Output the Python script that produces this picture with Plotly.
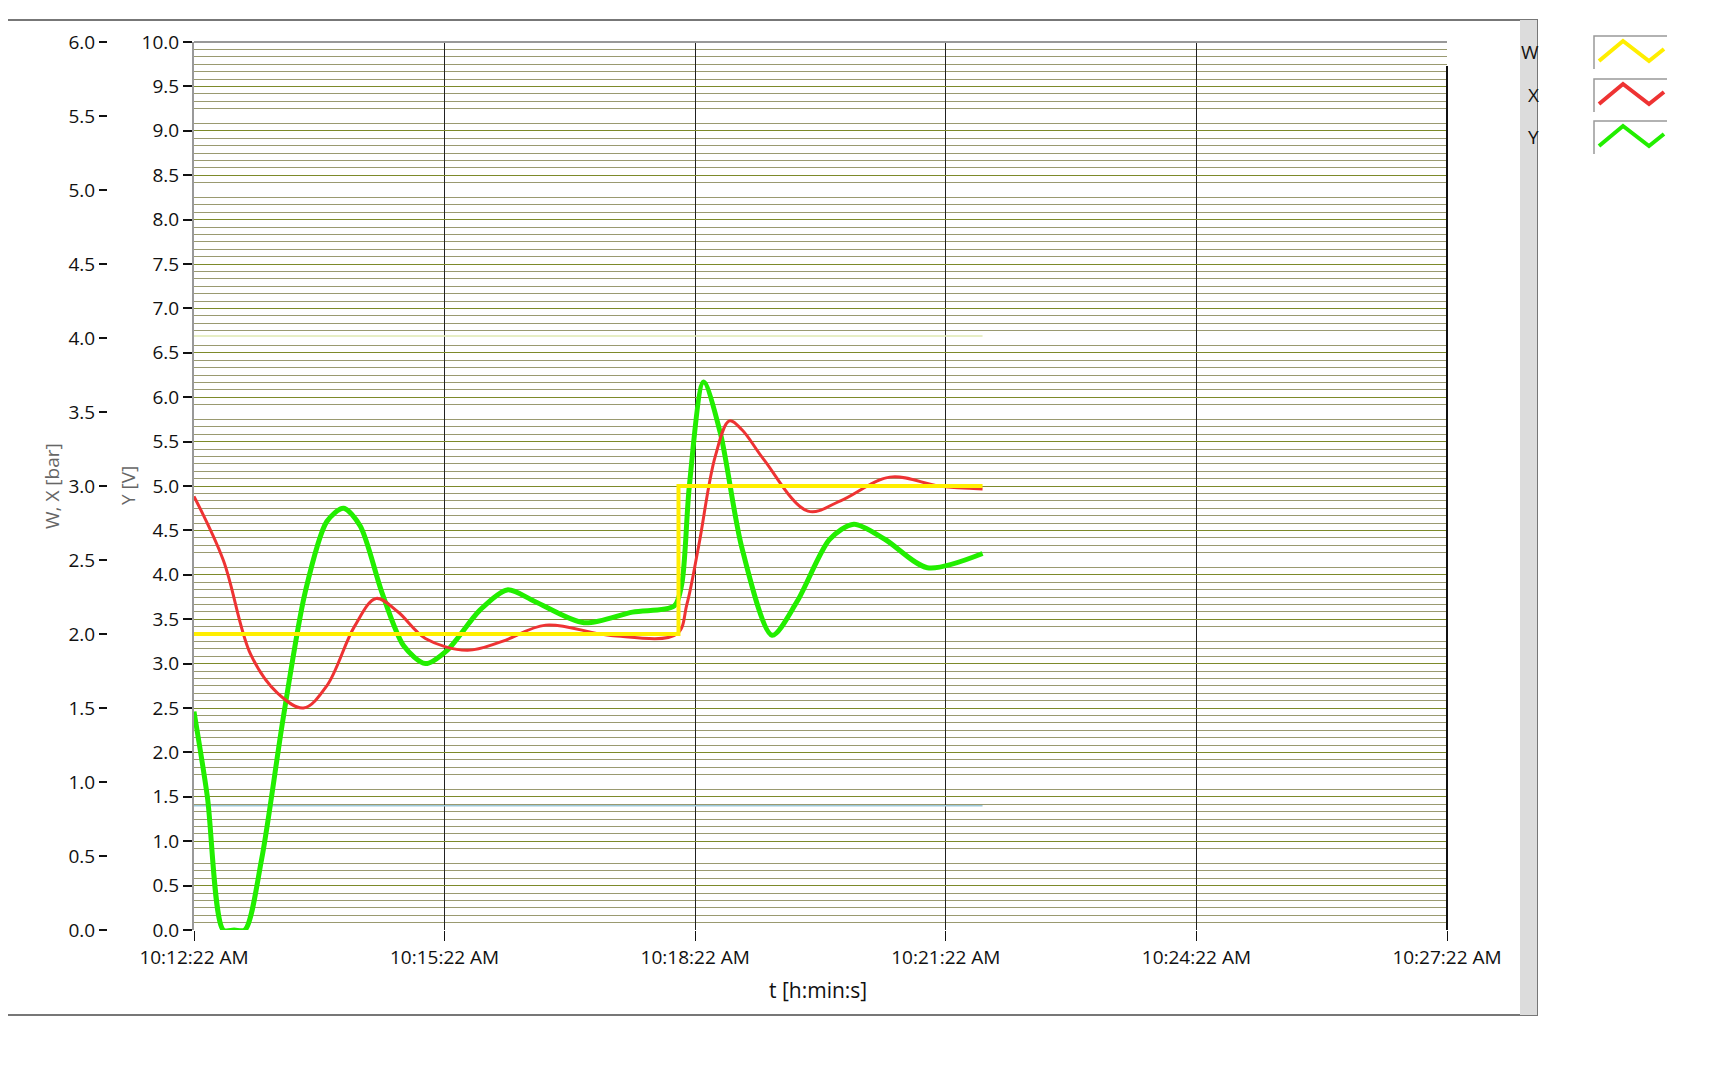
import plotly.graph_objects as go
import pandas as pd

W_PX, H_PX = 1711, 1080
T0 = pd.Timestamp("2024-01-01 10:12:22")

# series: minutes after 10:12:22 and values
y_t = [0, 0.16, 0.35, 0.48, 0.61, 0.81, 1.07, 1.33, 1.59, 1.79, 1.99, 2.25, 2.51, 2.77, 3.03, 3.42,
       3.75, 4.08, 4.67, 5.25, 5.75, 5.84, 5.93, 6.1, 6.3, 6.56, 6.92, 7.22, 7.61, 7.9, 8.27,
       8.78, 9.44]
y_v = [2.46, 1.5, 0.0, 0.0, 0.0, 0.8, 2.4, 3.8, 4.6, 4.75, 4.55, 3.8, 3.2, 3.0, 3.15, 3.6,
       3.83, 3.7, 3.46, 3.58, 3.65, 3.9, 5.0, 6.17, 5.6, 4.3, 3.32, 3.7, 4.4, 4.57, 4.4,
       4.08, 4.24]
x_t = [0, 0.35, 0.68, 1.0, 1.31, 1.59, 1.92, 2.18, 2.44, 2.77, 3.27, 3.69, 4.21, 4.99, 5.78,
       5.9, 6.04, 6.24, 6.41, 6.56, 6.82, 7.35, 7.74, 8.33, 8.92, 9.44]
x_v = [2.93, 2.5, 1.86, 1.6, 1.5, 1.65, 2.05, 2.24, 2.15, 1.97, 1.89, 1.95, 2.06, 1.99, 2.0,
       2.2, 2.59, 3.2, 3.44, 3.38, 3.18, 2.83, 2.9, 3.06, 3.0, 2.98]
w_t = [0, 5.8, 5.8, 9.44]
w_v = [2.0, 2.0, 3.0, 3.0]
# faint extra traces (Y axis units)
ext_t = [0, 9.44]
ext1_v = [1.4, 1.4]
ext2_v = [6.69, 6.69]


def ts(mins):
    return [T0 + pd.Timedelta(minutes=m) for m in mins]


def px(x):
    return x / W_PX


def py(y):
    return 1 - y / H_PX


fig = go.Figure()
fig.add_trace(go.Scatter(x=ts(ext_t), y=ext1_v, mode="lines", line=dict(color="#9cc8d8", width=1.5),
                         yaxis="y", showlegend=False))
fig.add_trace(go.Scatter(x=ts(ext_t), y=ext2_v, mode="lines", line=dict(color="#dfe8b0", width=1.5),
                         yaxis="y", showlegend=False))
fig.add_trace(go.Scatter(x=ts(x_t), y=x_v, mode="lines", line=dict(color="#ee3333", width=3, shape="spline"),
                         yaxis="y2", name="X"))
fig.add_trace(go.Scatter(x=ts(w_t), y=w_v, mode="lines", line=dict(color="#ffee00", width=4),
                         yaxis="y2", name="W"))
fig.add_trace(go.Scatter(x=ts(y_t), y=y_v, mode="lines",
                         line=dict(color="#22ee00", width=5, shape="spline", smoothing=0.8),
                         yaxis="y", name="Y"))

font = dict(family="Open Sans", size=19, color="#111")
x0, x1 = px(186), px(1439)
yb, yt = py(922), py(34)

fig.update_layout(
    width=W_PX, height=H_PX, margin=dict(l=0, r=0, t=0, b=0),
    paper_bgcolor="white", plot_bgcolor="white", showlegend=False, font=font,
    xaxis=dict(domain=[x0, x1], range=[T0, T0 + pd.Timedelta(minutes=15)], type="date",
               dtick=180000, tick0=T0, tickformat="%-I:%M:%S %p", showgrid=True,
               gridcolor="#222", gridwidth=1, ticks="outside", ticklen=10, tickcolor="#111",
               zeroline=False, showline=False, anchor="y", tickfont=font, automargin=False),
    yaxis=dict(domain=[yb, yt], range=[0, 10], dtick=0.5, tickformat=".1f", ticks="outside",
               ticklen=9, tickwidth=2, tickcolor="#111", showgrid=True, gridcolor="#7d8a2a",
               gridwidth=1.3, showline=True, linecolor="#999", linewidth=2, zeroline=False,
               anchor="x", tickfont=font, automargin=False),
    yaxis2=dict(range=[0, 6], dtick=0.5, tickformat=".1f", overlaying="y", anchor="free",
                position=px(99), side="left", ticks="outside", ticklen=8, tickwidth=2,
                tickcolor="#111", showgrid=False, zeroline=False, showline=False, tickfont=font,
                automargin=False,
                minor=dict(dtick=0.05, showgrid=True, gridcolor="#9a9a70", gridwidth=1)),
)

shapes = [
    dict(type="rect", xref="paper", yref="paper", x0=-0.01, x1=px(1529), y0=py(1007), y1=py(12),
         line=dict(color="#777", width=2), layer="below"),
    dict(type="rect", xref="paper", yref="paper", x0=px(1512), x1=px(1529), y0=py(1007), y1=py(12),
         line=dict(width=0), fillcolor="#dcdcdc", layer="below"),
    dict(type="line", xref="paper", yref="paper", x0=x0, x1=x1, y0=yt, y1=yt,
         line=dict(color="#999", width=2)),
    dict(type="line", xref="paper", yref="paper", x0=x1, x1=x1, y0=yb, y1=py(58),
         line=dict(color="#111", width=2)),
]
legend_items = [("W", "#ffee00", 28), ("X", "#ee3333", 71), ("Y", "#22ee00", 113)]
annotations = [
    dict(text="W, X [bar]", x=px(44), y=(yb + yt) / 2, xref="paper", yref="paper", textangle=-90,
         xanchor="center", yanchor="middle",
         showarrow=False, font=dict(family="Open Sans", size=19, color="#666")),
    dict(text="Y [V]", x=px(120), y=(yb + yt) / 2, xref="paper", yref="paper", textangle=-90,
         xanchor="center", yanchor="middle",
         showarrow=False, font=dict(family="Open Sans", size=19, color="#666")),
    dict(text="t [h:min:s]", x=px(810), y=py(998), xref="paper", yref="paper",
         showarrow=False, font=dict(family="Open Sans", size=21, color="#111")),
]
for name, col, top in legend_items:
    bx, by = 1586, top
    shapes.append(dict(type="path", xref="paper", yref="paper",
                       path=f"M {px(bx)} {py(by + 33)} L {px(bx)} {py(by)} L {px(bx + 73)} {py(by)}",
                       line=dict(color="#999", width=1.5)))
    pts = [(bx + 5, by + 25), (bx + 29, by + 5), (bx + 55, by + 25), (bx + 70, by + 13)]
    path = "M " + " L ".join(f"{px(a)} {py(b)}" for a, b in pts)
    shapes.append(dict(type="path", xref="paper", yref="paper", path=path,
                       line=dict(color=col, width=4)))
    annotations.append(dict(text=name, x=px(1533), y=py(by + 1), xref="paper", yref="paper",
                            showarrow=False, font=dict(family="Open Sans", size=19, color="#111")))
fig.update_layout(shapes=shapes, annotations=annotations)

fig.write_html("out.html")
